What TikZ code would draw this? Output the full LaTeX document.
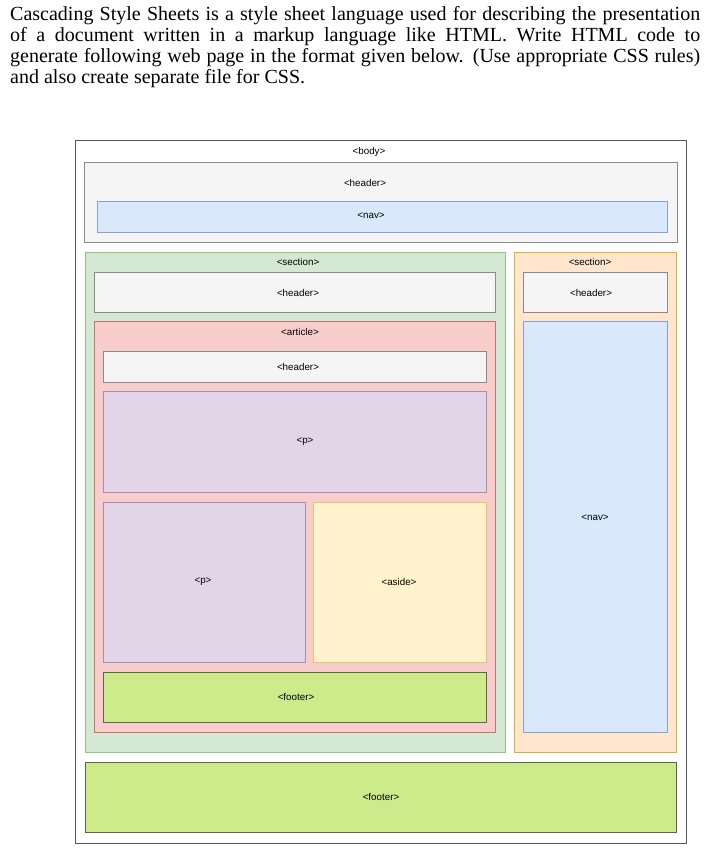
\documentclass[tikz,border=0pt]{standalone}
\usepackage{fontspec}
\setmainfont{Liberation Serif}
\newfontfamily\labfont{Liberation Sans}
\definecolor{hdrF}{HTML}{F5F5F5}\definecolor{hdrS}{HTML}{666666}
\definecolor{navF}{HTML}{DAE8FC}\definecolor{navS}{HTML}{6C8EBF}
\definecolor{grnF}{HTML}{D5E8D4}\definecolor{grnS}{HTML}{82B366}
\definecolor{orgF}{HTML}{FFE6CC}\definecolor{orgS}{HTML}{D79B00}
\definecolor{pnkF}{HTML}{F8CECC}\definecolor{pnkS}{HTML}{B85450}
\definecolor{purF}{HTML}{E1D5E7}\definecolor{purS}{HTML}{9673A6}
\definecolor{ylwF}{HTML}{FFF2CC}\definecolor{ylwS}{HTML}{D6B656}
\definecolor{ftrF}{HTML}{CDEB8B}\definecolor{ftrS}{HTML}{36393D}
\definecolor{bodyS}{HTML}{555555}
% #1 name, #2 x1, #3 y1, #4 x2, #5 y2, #6 fill, #7 stroke
\newcommand\htmlbox[7]{\node[htmlrect,fill=#6,draw=#7!75!#6,minimum width={#4pt-#2pt},minimum height={#5pt-#3pt}] (#1) at (#2,#3) {};}
\begin{document}
\begin{tikzpicture}[x=1pt,y=-1pt,
  htmlrect/.style={line width=1pt,inner sep=0pt,outer sep=0pt,anchor=north west,rectangle},
  lbl/.style={font=\labfont\fontsize{9.8}{11}\selectfont,inner sep=0pt,text=black}]
\useasboundingbox (0,0) rectangle (715,859);
\fill[white] (0,0) rectangle (715,859);

\node[anchor=north west,inner sep=0pt,text width=690pt,align=justify,
  font=\fontsize{20}{21}\selectfont] (intro) at (10,6)
 {Cascading Style Sheets is a style sheet language used for describing the presentation\linebreak
  of a document written in a markup language like HTML. Write HTML code to\linebreak
  generate following web page in the format given below. (Use appropriate CSS rules)\linebreak
  and also create separate file for CSS.};

\node[htmlrect,fill=white,draw=bodyS,minimum width=611pt,minimum height=703pt] (body) at (75,140) {};
\htmlbox{hdr}{84}{162}{677}{242}{hdrF}{hdrS}
\htmlbox{nav}{97}{201}{667}{232}{navF}{navS}
\htmlbox{secL}{85}{252}{505}{752}{grnF}{grnS}
\htmlbox{secR}{514}{252}{676}{752}{orgF}{orgS}
\htmlbox{secLhdr}{94}{272}{495}{312}{hdrF}{hdrS}
\htmlbox{secRhdr}{523}{272}{667}{312}{hdrF}{hdrS}
\htmlbox{navR}{523}{321}{667}{732}{navF}{navS}
\htmlbox{art}{94}{321}{495}{732}{pnkF}{pnkS}
\htmlbox{artHdr}{103}{351}{486}{382}{hdrF}{hdrS}
\htmlbox{pA}{103}{391}{486}{492}{purF}{purS}
\htmlbox{pB}{103}{502}{305}{662}{purF}{purS}
\htmlbox{aside}{313}{502}{486}{662}{ylwF}{ylwS}
\htmlbox{ftIn}{103}{672}{486}{722}{ftrF}{ftrS}
\htmlbox{ftOut}{85}{762}{676}{832}{ftrF}{ftrS}

\node[lbl] (lbody) at (369,152) {<body>};
\node[lbl] (lhdr) at (365,183) {<header>};
\node[lbl] (lnav) at (371,216) {<nav>};
\node[lbl] (lsecL) at (298,262) {<section>};
\node[lbl] (lsecLhdr) at (298,293) {<header>};
\node[lbl] (lart) at (300,332) {<article>};
\node[lbl] (lartHdr) at (298,367) {<header>};
\node[lbl] (lpA) at (305,442) {<p>};
\node[lbl] (lpB) at (203,582) {<p>};
\node[lbl] (laside) at (399,582) {<aside>};
\node[lbl] (lftIn) at (296,697) {<footer>};
\node[lbl] (lsecR) at (590,262) {<section>};
\node[lbl] (lsecRhdr) at (591,293) {<header>};
\node[lbl] (lnavR) at (595,518) {<nav>};
\node[lbl] (lftOut) at (381,797) {<footer>};
\end{tikzpicture}
\end{document}
